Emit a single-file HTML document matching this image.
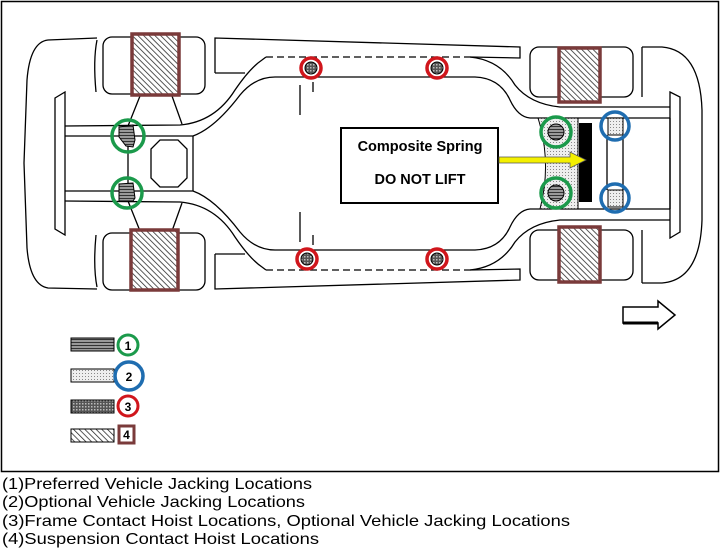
<!DOCTYPE html>
<html><head><meta charset="utf-8"><style>
html,body{margin:0;padding:0;background:#fff;}
svg{display:block;}
</style></head><body>
<svg width="721" height="549" viewBox="0 0 721 549" xmlns="http://www.w3.org/2000/svg">
<defs>
<pattern id="hatch" width="4" height="4" patternUnits="userSpaceOnUse" patternTransform="rotate(-45)">
<rect width="4" height="4" fill="#fff"/><line x1="0" y1="0" x2="0" y2="4" stroke="#222" stroke-width="1.5"/></pattern>
<pattern id="hstripe" width="4" height="3" patternUnits="userSpaceOnUse">
<rect width="4" height="3" fill="#999"/><line x1="0" y1="0.5" x2="4" y2="0.5" stroke="#333" stroke-width="1"/></pattern>
<pattern id="dots" width="3" height="3" patternUnits="userSpaceOnUse">
<rect width="3" height="3" fill="#eee"/><rect x="1" y="1" width="1" height="1" fill="#888"/></pattern>
<pattern id="grid" width="3" height="3" patternUnits="userSpaceOnUse">
<rect width="3" height="3" fill="#555"/><rect x="1" y="1" width="1.5" height="1.5" fill="#bbb"/></pattern>
</defs>
<rect x="1.5" y="1.5" width="717" height="470" fill="#fff" stroke="#000" stroke-width="1.5"/>

<g fill="none" stroke="#000" stroke-width="1.3">
<path d="M97,38 L48,40 Q30,42 27,80 L24,163 L27,248 Q30,285 48,288 L97,289"/>
<path d="M97,40 Q93,60 96,92"/>
<path d="M97,287 Q93,267 96,235"/>
<path d="M55,98 L65,92 L65,235 L55,229 Z"/>
<path d="M642,47 L662,47 Q700,50 702,110 L702,220 Q700,280 662,283 L642,283"/>
<path d="M642,47 L642,97"/><path d="M642,230 L642,283"/>
<path d="M670,92 L680,97 L680,232 L670,238 Z"/>

<g id="half">
<rect x="103" y="37" width="102" height="57" rx="9"/>
<rect x="530" y="47" width="103" height="50" rx="9"/>
<path d="M65,126 L180,125 Q215,122 235,90 Q250,68 262,60 L266,57"/>
<path d="M266,57 L470,57" stroke-dasharray="7,4"/>
<path d="M470,57 Q500,60 515,85 Q530,104 560,107 L670,107"/>
<path d="M65,136 L193,136 Q215,128 240,95 Q255,77 275,77 L475,77 Q500,78 510,100 Q518,117 530,118 L670,118"/>
<path d="M215,73 L215,38 L520,47 L520,58 L470,57"/>
<path d="M215,73 L245,73"/>
<line x1="140" y1="96" x2="128" y2="126"/>
<line x1="172" y1="96" x2="182" y2="124"/>
<line x1="300" y1="85" x2="300" y2="115"/>
<line x1="313" y1="82" x2="313" y2="92"/>
</g>
<use href="#half" transform="matrix(1,0,0,-1,0,327)"/>
<line x1="670" y1="118" x2="670" y2="209"/>
<line x1="193" y1="136" x2="193" y2="191"/>
<line x1="128" y1="136" x2="128" y2="191"/>
<path d="M160,140 L178,140 L187,149 L187,178 L178,187 L160,187 L151,178 L151,149 Z"/>
<line x1="607" y1="135" x2="607" y2="190"/>
<line x1="623" y1="135" x2="623" y2="190"/>
</g>

<path d="M538,118 L578,118 L578,209 L540,209 Q552,163 538,118 Z" fill="url(#dots)" stroke="#000" stroke-width="1"/>

<g stroke="#7a3a3a" stroke-width="3.5" fill="url(#hatch)">
<rect x="132" y="34" width="47" height="61"/>
<rect x="131" y="230" width="47" height="60"/>
<rect x="559" y="48" width="41" height="54"/>
<rect x="559" y="227" width="41" height="55"/>
</g>

<g fill="url(#hstripe)" stroke="#000" stroke-width="1">
<path d="M119,127 L133,125 L135,140 L133,147 L126,146 L119,137 Z"/>
<path d="M119,184 L133,183 L135,198 L133,201 L119,201 Z"/>
<circle cx="556" cy="132" r="8"/><circle cx="556" cy="193" r="8"/>
</g>
<g fill="none" stroke="#1b9a4b" stroke-width="3.5">
<circle cx="128" cy="136" r="16"/><circle cx="127" cy="193" r="15"/>
<circle cx="556" cy="132" r="15"/><circle cx="556" cy="193" r="15"/>
</g>
<g fill="url(#grid)" stroke="#000" stroke-width="1">
<circle cx="311" cy="68" r="6"/><circle cx="437" cy="68" r="6"/>
<circle cx="307" cy="259" r="6"/><circle cx="437" cy="259" r="6"/>
</g>
<g fill="none" stroke="#d0161c" stroke-width="3.5">
<circle cx="311" cy="68" r="10"/><circle cx="437" cy="68" r="10"/>
<circle cx="307" cy="259" r="10"/><circle cx="437" cy="259" r="10"/>
</g>
<rect x="608" y="118" width="15" height="17" fill="url(#dots)" stroke="#000"/>
<rect x="608" y="190" width="15" height="17" fill="url(#dots)" stroke="#000"/>
<g fill="none" stroke="#1f6db0" stroke-width="3.5">
<circle cx="615" cy="126" r="14"/><circle cx="615" cy="198" r="14"/>
</g>

<rect x="579" y="123" width="13" height="79" fill="#000"/>

<rect x="341" y="128" width="157" height="75" fill="#fff" stroke="#000" stroke-width="2"/>
<text x="420" y="151" text-anchor="middle" font-family="Liberation Sans, sans-serif" font-weight="bold" font-size="14.5">Composite Spring</text>
<text x="420" y="184" text-anchor="middle" font-family="Liberation Sans, sans-serif" font-weight="bold" font-size="14.5">DO NOT LIFT</text>
<path d="M499,157 L570,157 L570,152 L586,160 L570,168 L570,163 L499,163 Z" fill="#f4f000" stroke="#555" stroke-width="0.8"/>

<path d="M623,307 L658,307 L658,301 L675,315 L658,329 L658,323 L623,323 Z" fill="#fff" stroke="#000" stroke-width="1.5"/>
<line x1="623" y1="323" x2="658" y2="323" stroke="#000" stroke-width="3"/>

<rect x="71" y="338" width="43" height="13" fill="url(#hstripe)" stroke="#000"/>
<circle cx="128" cy="345" r="10" fill="#fff" stroke="#1b9a4b" stroke-width="3"/>
<rect x="71" y="369" width="43" height="13" fill="url(#dots)" stroke="#000"/>
<circle cx="129" cy="376" r="14" fill="#fff" stroke="#1f6db0" stroke-width="3.5"/>
<rect x="71" y="400" width="43" height="13" fill="url(#grid)" stroke="#000"/>
<circle cx="128" cy="406" r="10" fill="#fff" stroke="#d0161c" stroke-width="3"/>
<rect x="71" y="429" width="43" height="13" fill="url(#hatch)" stroke="#000"/>
<rect x="119" y="426" width="15" height="17" fill="#fff" stroke="#7a3a3a" stroke-width="3"/>
<g font-family="Liberation Sans, sans-serif" font-weight="bold" font-size="12" text-anchor="middle">
<text x="128" y="350">1</text><text x="129" y="381">2</text><text x="128" y="411">3</text><text x="126.5" y="439">4</text>
</g>

<g font-family="Liberation Sans, sans-serif" font-size="16" fill="#000">
<text x="2" y="489" textLength="310" lengthAdjust="spacingAndGlyphs">(1)Preferred Vehicle Jacking Locations</text>
<text x="2" y="507" textLength="303" lengthAdjust="spacingAndGlyphs">(2)Optional Vehicle Jacking Locations</text>
<text x="2" y="526" textLength="568" lengthAdjust="spacingAndGlyphs">(3)Frame Contact Hoist Locations, Optional Vehicle Jacking Locations</text>
<text x="2" y="544" textLength="317" lengthAdjust="spacingAndGlyphs">(4)Suspension Contact Hoist Locations</text>
</g>
</svg>
</body></html>
